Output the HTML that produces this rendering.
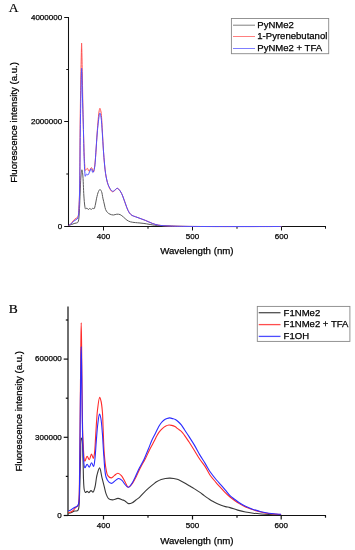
<!DOCTYPE html>
<html><head><meta charset="utf-8"><title>Fluorescence spectra</title>
<style>
html,body{margin:0;padding:0;background:#fff;}
body{width:355px;height:550px;overflow:hidden;}
svg{display:block;}
text{font-family:'Liberation Sans', Arial, sans-serif;fill:#000;stroke:#000;stroke-width:0.25px;}
text.tk{stroke-width:0.25px;}
</style></head>
<body>
<svg width="355" height="550" viewBox="0 0 355 550">
<rect width="355" height="550" fill="#fff"/>
<path d="M68.5 17 V226.5 H326" fill="none" stroke="#111" stroke-width="1.05"/>
<line x1="64.2" y1="17.5" x2="68.5" y2="17.5" stroke="#111" stroke-width="1.05"/>
<text x="62.1" y="19.75" text-anchor="end" font-size="8" class="tk">4000000</text>
<line x1="64.2" y1="121.5" x2="68.5" y2="121.5" stroke="#111" stroke-width="1.05"/>
<text x="62.1" y="123.75" text-anchor="end" font-size="8" class="tk">2000000</text>
<line x1="64.2" y1="226.5" x2="68.5" y2="226.5" stroke="#111" stroke-width="1.05"/>
<text x="62.1" y="228.75" text-anchor="end" font-size="8" class="tk">0</text>
<line x1="66.3" y1="69.5" x2="68.5" y2="69.5" stroke="#111" stroke-width="1.05"/>
<line x1="66.3" y1="174" x2="68.5" y2="174" stroke="#111" stroke-width="1.05"/>
<line x1="103.5" y1="226.5" x2="103.5" y2="230.5" stroke="#111" stroke-width="1.05"/>
<text x="103.5" y="238.5" text-anchor="middle" font-size="8" class="tk">400</text>
<line x1="192.5" y1="226.5" x2="192.5" y2="230.5" stroke="#111" stroke-width="1.05"/>
<text x="192.5" y="238.5" text-anchor="middle" font-size="8" class="tk">500</text>
<line x1="281.5" y1="226.5" x2="281.5" y2="230.5" stroke="#111" stroke-width="1.05"/>
<text x="281.5" y="238.5" text-anchor="middle" font-size="8" class="tk">600</text>
<line x1="148" y1="226.5" x2="148" y2="228.7" stroke="#111" stroke-width="1.05"/>
<line x1="237" y1="226.5" x2="237" y2="228.7" stroke="#111" stroke-width="1.05"/>
<line x1="325.5" y1="226.5" x2="325.5" y2="228.7" stroke="#111" stroke-width="1.05"/>
<text x="196.9" y="254" text-anchor="middle" font-size="9.7">Wavelength (nm)</text>
<text transform="translate(17.4 122.4) rotate(-90)" text-anchor="middle" font-size="9.6">Fluorescence intensity (a.u.)</text>
<text x="8.8" y="12.3" style="font-family:'Liberation Serif', 'Times New Roman', serif;font-size:13.5px;stroke-width:0.18px">A</text>
<path d="M68.60 225.40 C68.60 225.40 70.65 224.83 71.60 224.50 C72.48 224.19 73.28 223.75 74.10 223.50 C74.85 223.27 75.68 223.15 76.30 223.00 C76.76 222.89 77.17 222.95 77.50 222.70 C77.90 222.39 78.17 221.79 78.40 221.10 C78.75 220.06 78.83 218.54 79.00 216.90 C79.23 214.58 79.33 211.77 79.50 208.50 C79.73 203.92 79.96 197.37 80.20 192.00 C80.43 186.88 80.52 181.09 80.90 177.00 C81.16 174.16 81.56 169.81 81.90 169.80 C82.16 169.79 82.46 172.04 82.70 174.00 C83.24 178.45 83.47 190.10 83.90 196.00 C84.19 199.99 84.41 203.70 84.80 206.00 C85.01 207.23 85.02 208.57 85.50 208.80 C85.86 208.97 86.55 208.00 87.00 208.10 C87.49 208.21 87.85 209.57 88.30 209.60 C88.72 209.63 89.10 208.57 89.60 208.50 C90.15 208.43 90.95 209.49 91.50 209.40 C92.01 209.31 92.36 208.14 92.80 208.10 C93.19 208.06 93.65 209.03 94.00 208.90 C94.67 208.66 95.08 205.71 95.50 204.00 C95.95 202.16 96.13 200.19 96.60 198.20 C97.11 196.04 97.74 193.03 98.50 191.50 C98.95 190.58 99.50 189.50 100.00 189.50 C100.50 189.50 101.08 190.58 101.50 191.50 C102.19 193.03 102.40 195.96 102.90 198.20 C103.40 200.46 104.01 202.97 104.50 205.00 C104.90 206.66 105.04 208.19 105.60 209.50 C106.09 210.65 106.73 211.70 107.50 212.50 C108.21 213.24 109.06 213.79 110.00 214.20 C111.01 214.64 112.27 215.00 113.40 215.00 C114.53 215.00 115.67 214.26 116.80 214.20 C117.90 214.14 119.04 214.18 120.10 214.60 C121.29 215.07 122.39 216.20 123.50 217.10 C124.65 218.03 125.71 219.30 126.90 220.10 C127.99 220.83 129.02 221.39 130.30 221.80 C131.80 222.28 133.74 222.40 135.40 222.60 C136.97 222.79 138.34 222.82 140.00 223.00 C141.96 223.21 144.16 223.46 146.40 223.80 C148.90 224.18 151.29 224.85 154.30 225.20 C158.23 225.66 163.19 225.80 168.00 226.00 C173.36 226.22 177.02 226.30 185.00 226.40 C203.99 226.63 281.30 226.50 281.30 226.50" fill="none" stroke="#5a5a5a" stroke-width="1.0" stroke-linejoin="round"/>
<path d="M68.60 225.40 C68.60 225.40 70.10 224.65 70.80 224.00 C71.68 223.19 72.58 221.55 73.30 220.70 C73.79 220.12 74.11 219.71 74.60 219.30 C75.11 218.88 75.79 218.56 76.30 218.20 C76.74 217.89 77.18 217.70 77.50 217.30 C77.87 216.84 78.09 216.33 78.30 215.50 C78.71 213.88 78.72 211.04 78.90 208.00 C79.18 203.29 79.41 197.96 79.60 190.00 C79.97 174.30 79.95 140.77 80.20 120.00 C80.40 103.35 80.67 87.81 80.90 75.00 C81.07 65.45 81.26 55.74 81.40 50.00 C81.47 46.98 81.53 43.10 81.60 43.10 C81.67 43.10 81.73 46.98 81.80 50.00 C81.94 55.74 82.11 65.45 82.30 75.00 C82.56 87.81 82.86 105.94 83.20 120.00 C83.50 132.40 83.85 146.62 84.20 155.00 C84.40 159.70 84.59 163.16 84.80 166.00 C84.93 167.80 84.66 170.20 85.20 170.40 C85.65 170.57 86.79 168.20 87.40 168.30 C88.03 168.41 88.29 171.15 88.90 171.20 C89.61 171.25 90.76 167.52 91.50 167.60 C92.27 167.69 92.86 172.17 93.40 172.10 C94.26 171.99 94.76 164.77 95.30 160.00 C96.07 153.18 96.37 143.16 97.00 135.00 C97.61 127.17 98.28 116.37 99.00 112.00 C99.29 110.22 99.57 108.31 99.90 108.30 C100.23 108.29 100.69 110.28 101.00 112.00 C101.68 115.72 101.91 123.84 102.30 130.00 C102.71 136.49 102.99 143.93 103.40 150.00 C103.74 155.08 104.09 159.76 104.50 164.00 C104.84 167.53 105.16 170.82 105.60 173.70 C105.95 176.03 106.36 178.08 106.80 180.00 C107.17 181.63 107.51 183.06 108.00 184.50 C108.48 185.89 109.06 187.32 109.70 188.50 C110.25 189.52 110.87 190.66 111.50 191.20 C111.92 191.56 112.34 191.82 112.80 191.80 C113.34 191.77 113.89 191.25 114.50 190.80 C115.33 190.18 116.28 188.31 117.20 188.30 C118.15 188.29 119.25 189.79 120.10 190.90 C121.13 192.24 121.93 194.21 122.70 196.00 C123.51 197.87 124.10 199.93 124.80 201.90 C125.50 203.87 126.11 205.93 126.90 207.80 C127.65 209.58 128.43 211.56 129.40 212.90 C130.18 213.96 131.00 214.77 132.00 215.40 C133.00 216.04 134.18 216.24 135.40 216.70 C136.82 217.23 138.41 217.81 140.00 218.40 C141.73 219.04 143.50 219.64 145.40 220.40 C147.57 221.27 150.06 222.60 152.30 223.40 C154.32 224.13 155.87 224.68 158.20 225.10 C161.43 225.68 165.83 225.79 170.00 226.00 C174.70 226.24 177.83 226.30 185.00 226.40 C203.17 226.65 281.30 226.50 281.30 226.50" fill="none" stroke="#ff4f4f" stroke-width="1.0" stroke-linejoin="round"/>
<path d="M68.60 225.40 C68.60 225.40 70.08 224.66 70.80 224.10 C71.65 223.44 72.53 222.28 73.30 221.60 C73.90 221.07 74.39 220.72 75.00 220.30 C75.65 219.85 76.60 219.48 77.10 219.00 C77.48 218.63 77.68 218.30 77.90 217.80 C78.19 217.12 78.34 216.28 78.50 215.20 C78.76 213.49 78.85 211.23 79.00 208.50 C79.24 204.22 79.43 199.26 79.60 192.00 C79.94 177.94 80.03 148.41 80.30 130.00 C80.51 115.21 80.79 100.71 81.00 90.00 C81.14 82.82 81.26 75.74 81.40 72.00 C81.46 70.30 81.53 68.30 81.60 68.30 C81.69 68.30 81.80 71.50 81.90 74.00 C82.08 78.79 82.19 87.38 82.40 95.00 C82.65 104.11 83.01 114.61 83.30 125.00 C83.61 136.22 83.87 151.38 84.20 160.00 C84.39 165.05 84.55 169.01 84.80 172.00 C84.95 173.80 84.92 176.22 85.30 176.30 C85.60 176.36 86.10 174.10 86.60 174.00 C86.99 173.92 87.49 175.09 87.90 175.00 C88.49 174.87 88.96 173.03 89.50 172.00 C90.06 170.93 90.66 168.68 91.20 168.70 C91.77 168.72 92.27 172.51 92.80 172.50 C93.37 172.49 94.04 170.04 94.50 168.00 C95.39 164.04 95.47 156.49 96.00 150.00 C96.62 142.35 97.19 131.79 98.00 125.00 C98.56 120.29 99.27 113.14 99.90 113.10 C100.27 113.08 100.68 115.24 101.00 117.00 C101.63 120.51 101.90 127.58 102.30 133.00 C102.71 138.58 103.01 144.61 103.40 150.00 C103.75 154.89 104.09 159.76 104.50 164.00 C104.84 167.53 105.16 170.82 105.60 173.70 C105.95 176.03 106.36 178.11 106.80 180.00 C107.17 181.58 107.50 182.94 108.00 184.30 C108.48 185.60 109.07 186.90 109.70 188.00 C110.25 188.97 110.88 190.05 111.50 190.60 C111.92 190.98 112.34 191.30 112.80 191.30 C113.33 191.30 113.89 190.80 114.50 190.40 C115.32 189.87 116.30 188.27 117.20 188.30 C118.16 188.33 119.25 189.79 120.10 190.90 C121.13 192.24 121.93 194.21 122.70 196.00 C123.51 197.87 124.10 199.93 124.80 201.90 C125.50 203.87 126.11 205.93 126.90 207.80 C127.65 209.58 128.43 211.56 129.40 212.90 C130.18 213.96 131.00 214.77 132.00 215.40 C133.00 216.04 134.18 216.24 135.40 216.70 C136.82 217.23 138.41 217.81 140.00 218.40 C141.73 219.04 143.50 219.64 145.40 220.40 C147.57 221.27 150.06 222.60 152.30 223.40 C154.32 224.13 155.87 224.68 158.20 225.10 C161.43 225.68 165.83 225.79 170.00 226.00 C174.70 226.24 177.83 226.30 185.00 226.40 C203.17 226.65 281.30 226.50 281.30 226.50" fill="none" stroke="#4f4fff" stroke-width="1.0" stroke-linejoin="round"/>
<rect x="231.4" y="18.5" width="97.29999999999998" height="35.2" fill="none" stroke="#888" stroke-width="0.9"/>
<line x1="233" y1="25.2" x2="255" y2="25.2" stroke="#808080" stroke-width="1"/>
<text x="257.3" y="28.05" font-size="9.55">PyNMe2</text>
<line x1="233" y1="36.5" x2="255" y2="36.5" stroke="#ff7f7f" stroke-width="1"/>
<text x="257.3" y="39.35" font-size="9.55">1-Pyrenebutanol</text>
<line x1="233" y1="48.5" x2="255" y2="48.5" stroke="#7f7fff" stroke-width="1"/>
<text x="257.3" y="51.35" font-size="9.55">PyNMe2 + TFA</text>
<path d="M68.0 306.5 V515.5 H326" fill="none" stroke="#111" stroke-width="1.2"/>
<line x1="63.7" y1="359.1" x2="68.0" y2="359.1" stroke="#111" stroke-width="1.2"/>
<text x="61.8" y="361.35" text-anchor="end" font-size="8" class="tk">600000</text>
<line x1="63.7" y1="437.3" x2="68.0" y2="437.3" stroke="#111" stroke-width="1.2"/>
<text x="61.8" y="439.55" text-anchor="end" font-size="8" class="tk">300000</text>
<line x1="63.7" y1="515.5" x2="68.0" y2="515.5" stroke="#111" stroke-width="1.2"/>
<text x="61.8" y="517.75" text-anchor="end" font-size="8" class="tk">0</text>
<line x1="65.8" y1="320" x2="68.0" y2="320" stroke="#111" stroke-width="1.2"/>
<line x1="65.8" y1="398.2" x2="68.0" y2="398.2" stroke="#111" stroke-width="1.2"/>
<line x1="65.8" y1="476.4" x2="68.0" y2="476.4" stroke="#111" stroke-width="1.2"/>
<line x1="103.5" y1="515.5" x2="103.5" y2="519.5" stroke="#111" stroke-width="1.2"/>
<text x="103.5" y="528.3" text-anchor="middle" font-size="8" class="tk">400</text>
<line x1="192.5" y1="515.5" x2="192.5" y2="519.5" stroke="#111" stroke-width="1.2"/>
<text x="192.5" y="528.3" text-anchor="middle" font-size="8" class="tk">500</text>
<line x1="281.2" y1="515.5" x2="281.2" y2="519.5" stroke="#111" stroke-width="1.2"/>
<text x="281.2" y="528.3" text-anchor="middle" font-size="8" class="tk">600</text>
<line x1="148" y1="515.5" x2="148" y2="517.7" stroke="#111" stroke-width="1.2"/>
<line x1="237" y1="515.5" x2="237" y2="517.7" stroke="#111" stroke-width="1.2"/>
<line x1="325.5" y1="515.5" x2="325.5" y2="517.7" stroke="#111" stroke-width="1.2"/>
<text x="196.9" y="543.7" text-anchor="middle" font-size="9.7">Wavelength (nm)</text>
<text transform="translate(22.2 411.3) rotate(-90)" text-anchor="middle" font-size="9.6">Fluorescence intensity (a.u.)</text>
<text x="8.8" y="313.4" style="font-family:'Liberation Serif', 'Times New Roman', serif;font-size:13.5px;stroke-width:0.18px">B</text>
<path d="M68.20 513.20 C68.20 513.20 70.57 512.78 71.60 512.40 C72.52 512.06 73.27 511.32 74.10 511.10 C74.83 510.90 75.64 511.15 76.30 511.00 C76.89 510.86 77.50 510.73 77.90 510.30 C78.40 509.77 78.58 508.86 78.80 507.80 C79.16 506.11 79.15 503.84 79.30 501.00 C79.55 496.26 79.70 488.89 79.90 482.00 C80.14 473.79 80.36 462.95 80.60 455.00 C80.79 448.71 80.52 438.24 81.20 438.10 C81.44 438.05 81.85 438.99 82.10 440.00 C82.87 443.11 82.68 452.66 83.00 460.00 C83.40 468.99 83.27 485.56 84.30 490.00 C84.61 491.34 84.88 492.34 85.40 492.50 C85.85 492.63 86.54 491.39 87.10 491.40 C87.67 491.41 88.21 492.64 88.80 492.60 C89.50 492.56 90.27 490.63 91.00 490.60 C91.67 490.57 92.42 492.26 93.00 492.10 C93.86 491.86 94.42 489.10 95.00 487.00 C95.86 483.88 96.09 478.44 97.00 475.00 C97.72 472.29 98.82 467.86 99.60 467.90 C100.48 467.95 101.12 474.16 101.90 477.30 C102.69 480.46 103.56 483.86 104.30 486.80 C104.94 489.34 105.31 491.82 106.10 493.90 C106.77 495.67 107.34 497.60 108.50 498.60 C109.52 499.48 110.98 499.86 112.40 499.90 C114.09 499.95 116.24 498.35 118.00 498.40 C119.59 498.45 121.22 499.43 122.50 499.90 C123.46 500.25 124.13 500.41 125.00 500.90 C126.13 501.54 127.33 503.34 128.60 503.60 C129.77 503.84 131.13 503.25 132.30 502.70 C133.57 502.10 134.70 500.90 135.90 500.00 C137.10 499.10 138.34 498.35 139.50 497.30 C140.78 496.15 141.82 494.69 143.20 493.30 C144.81 491.68 146.77 489.83 148.60 488.20 C150.40 486.60 152.53 484.79 154.10 483.60 C155.20 482.77 155.92 482.23 157.00 481.60 C158.25 480.88 159.77 480.12 161.20 479.60 C162.58 479.10 163.96 478.75 165.40 478.50 C166.89 478.24 168.30 478.03 170.00 478.10 C172.14 478.18 175.16 478.68 177.20 479.30 C178.82 479.79 180.01 480.51 181.40 481.20 C182.81 481.91 184.21 482.70 185.60 483.50 C187.01 484.30 188.39 485.16 189.80 486.00 C191.23 486.86 192.56 487.64 194.10 488.60 C195.92 489.74 198.22 491.15 200.00 492.40 C201.54 493.48 202.78 494.56 204.20 495.60 C205.61 496.63 207.07 497.64 208.50 498.60 C209.90 499.54 211.28 500.49 212.70 501.30 C214.08 502.09 215.49 502.75 216.90 503.40 C218.29 504.04 219.68 504.67 221.10 505.20 C222.51 505.73 223.93 506.20 225.40 506.60 C226.90 507.01 228.28 507.14 230.00 507.60 C232.25 508.21 235.11 509.37 237.70 510.10 C240.28 510.83 242.90 511.48 245.50 512.00 C248.06 512.51 250.62 512.87 253.20 513.20 C255.79 513.53 258.41 513.78 261.00 514.00 C263.57 514.22 265.83 514.37 268.70 514.50 C272.34 514.66 281.10 514.80 281.10 514.80" fill="none" stroke="#383838" stroke-width="1.1" stroke-linejoin="round"/>
<path d="M68.20 512.70 C68.20 512.70 69.98 512.47 70.80 512.10 C71.68 511.70 72.51 511.04 73.30 510.30 C74.19 509.47 75.00 508.04 75.80 507.30 C76.38 506.76 77.06 506.59 77.50 506.10 C77.91 505.64 78.17 505.14 78.40 504.50 C78.69 503.68 78.76 503.04 78.90 501.50 C79.36 496.56 79.40 482.57 79.60 470.00 C79.90 451.26 80.09 421.38 80.30 400.00 C80.48 381.93 80.63 364.16 80.80 350.00 C80.93 339.53 81.06 322.70 81.20 322.70 C81.33 322.70 81.47 335.92 81.60 345.00 C81.81 359.26 81.94 383.12 82.20 400.00 C82.42 414.39 82.39 428.76 83.00 440.00 C83.45 448.22 83.73 461.11 84.90 461.30 C85.49 461.40 86.31 456.26 87.10 456.20 C87.79 456.15 88.62 459.86 89.30 459.80 C90.12 459.72 90.79 454.01 91.50 454.00 C92.12 453.99 92.81 458.43 93.30 458.40 C93.78 458.37 94.08 456.02 94.40 454.00 C95.08 449.71 95.30 440.65 95.80 433.60 C96.33 426.02 96.69 416.64 97.50 410.00 C98.10 405.10 98.93 397.36 99.70 397.30 C100.12 397.26 100.62 399.42 101.00 401.00 C101.63 403.63 102.06 407.84 102.40 411.80 C102.82 416.60 102.83 421.81 103.10 427.80 C103.44 435.46 103.68 446.43 104.30 454.00 C104.77 459.82 105.33 465.44 106.10 469.40 C106.60 471.95 106.73 474.15 107.80 475.60 C108.67 476.78 110.28 477.96 111.40 477.90 C112.44 477.85 113.26 476.35 114.30 475.60 C115.42 474.78 116.71 473.19 117.90 473.20 C119.08 473.21 120.34 474.46 121.40 475.60 C122.78 477.09 123.82 479.80 125.00 481.80 C126.12 483.69 127.02 487.12 128.30 487.30 C129.48 487.47 131.10 485.11 132.30 483.60 C133.68 481.86 134.74 479.53 135.90 477.30 C137.15 474.89 138.26 472.10 139.50 469.60 C140.70 467.17 142.15 464.39 143.20 462.50 C143.92 461.21 144.36 460.70 145.10 459.30 C146.42 456.82 148.45 451.95 150.10 448.70 C151.55 445.85 153.21 443.10 154.40 440.80 C155.31 439.04 155.89 437.59 156.70 436.10 C157.46 434.70 158.17 433.35 159.10 432.10 C160.04 430.84 161.20 429.62 162.30 428.60 C163.30 427.68 164.27 426.80 165.40 426.20 C166.51 425.61 167.88 425.10 169.00 425.00 C169.95 424.92 170.77 425.16 171.70 425.40 C172.74 425.67 173.88 426.04 174.90 426.60 C175.98 427.19 176.95 428.13 178.00 428.90 C179.08 429.69 180.27 430.32 181.30 431.30 C182.45 432.40 183.38 433.78 184.50 435.30 C185.89 437.18 187.37 439.46 188.90 441.80 C190.65 444.48 192.58 447.59 194.40 450.50 C196.22 453.42 197.94 456.51 199.80 459.30 C201.58 461.96 203.59 464.27 205.30 466.90 C207.03 469.56 208.33 472.63 210.10 475.20 C211.81 477.68 214.01 480.10 215.70 482.10 C217.04 483.69 218.06 484.81 219.40 486.30 C220.95 488.02 222.74 490.02 224.50 491.80 C226.27 493.59 228.21 495.48 230.00 497.00 C231.57 498.33 233.04 499.39 234.60 500.50 C236.14 501.59 237.60 502.58 239.30 503.60 C241.20 504.75 243.28 505.99 245.50 507.00 C247.89 508.08 250.61 508.96 253.20 509.80 C255.78 510.63 258.40 511.38 261.00 512.00 C263.56 512.61 265.82 513.10 268.70 513.50 C272.33 514.00 281.10 514.50 281.10 514.50" fill="none" stroke="#ff2a2a" stroke-width="1.1" stroke-linejoin="round"/>
<path d="M68.20 510.70 C68.20 510.70 69.97 510.30 70.80 509.90 C71.67 509.48 72.54 508.66 73.30 508.20 C73.91 507.83 74.43 507.58 75.00 507.30 C75.56 507.02 76.20 506.80 76.70 506.50 C77.15 506.23 77.58 506.06 77.90 505.60 C78.36 504.95 78.59 503.77 78.80 502.70 C79.05 501.44 79.09 500.53 79.20 498.50 C79.50 493.23 79.54 481.60 79.70 470.00 C79.95 451.82 80.17 419.33 80.40 400.00 C80.57 386.33 80.75 374.82 80.90 365.00 C81.01 357.86 81.08 346.50 81.20 346.50 C81.32 346.50 81.47 357.19 81.60 365.00 C81.83 378.46 81.98 404.14 82.30 420.00 C82.55 432.10 82.60 443.21 83.20 452.00 C83.62 458.20 83.77 467.55 84.90 467.80 C85.48 467.93 86.34 464.24 87.10 464.20 C87.81 464.16 88.61 467.16 89.30 467.10 C90.10 467.03 90.76 462.72 91.50 462.70 C92.19 462.68 93.07 466.49 93.60 466.40 C94.26 466.29 94.44 462.71 94.80 460.00 C95.42 455.34 95.78 447.07 96.30 440.90 C96.79 435.09 97.17 428.89 97.80 424.00 C98.29 420.22 98.87 414.05 99.50 414.00 C99.91 413.97 100.42 416.20 100.80 418.00 C101.53 421.47 101.93 427.96 102.40 433.60 C102.96 440.28 103.18 448.21 103.80 455.50 C104.42 462.78 104.57 472.76 106.10 477.30 C106.87 479.60 107.83 481.11 109.00 482.10 C109.89 482.85 111.05 483.45 112.00 483.30 C113.03 483.14 113.86 481.67 114.90 480.90 C116.02 480.07 117.29 478.57 118.50 478.50 C119.66 478.43 120.97 479.41 122.00 480.30 C123.18 481.32 123.89 483.30 125.00 484.50 C126.01 485.60 127.19 487.38 128.30 487.30 C129.62 487.20 131.10 484.49 132.30 482.70 C133.68 480.64 134.72 477.95 135.90 475.50 C137.12 472.98 138.19 470.44 139.50 467.80 C140.93 464.92 142.73 462.00 144.20 458.90 C145.74 455.65 147.15 451.97 148.50 448.70 C149.74 445.69 150.80 442.64 152.00 440.00 C153.04 437.71 154.15 435.80 155.20 433.70 C156.25 431.60 157.29 429.23 158.30 427.40 C159.12 425.92 159.78 424.69 160.70 423.50 C161.61 422.33 162.69 421.14 163.80 420.30 C164.80 419.55 165.96 419.01 167.00 418.60 C167.92 418.24 168.79 417.90 169.70 417.90 C170.62 417.90 171.57 418.33 172.50 418.60 C173.44 418.87 174.41 419.04 175.30 419.50 C176.25 419.99 177.09 420.70 178.00 421.50 C179.08 422.45 180.27 423.61 181.30 424.90 C182.45 426.34 183.34 428.05 184.50 429.80 C185.85 431.84 187.37 434.04 188.90 436.40 C190.65 439.09 192.62 442.09 194.40 445.10 C196.26 448.24 197.94 451.76 199.80 454.90 C201.58 457.91 203.55 460.73 205.30 463.60 C206.98 466.36 208.29 469.13 210.10 471.80 C212.00 474.60 214.50 477.62 216.50 480.00 C218.12 481.93 219.60 483.40 221.10 485.10 C222.57 486.77 223.95 488.39 225.40 490.10 C226.91 491.88 228.38 494.02 230.00 495.60 C231.47 497.04 233.04 498.11 234.60 499.30 C236.14 500.48 237.59 501.59 239.30 502.70 C241.20 503.93 243.28 505.22 245.50 506.30 C247.89 507.47 250.60 508.50 253.20 509.40 C255.77 510.29 258.39 511.06 261.00 511.70 C263.56 512.33 266.12 512.82 268.70 513.20 C271.28 513.58 274.24 513.81 276.50 514.00 C278.23 514.15 281.10 514.30 281.10 514.30" fill="none" stroke="#2a2aff" stroke-width="1.1" stroke-linejoin="round"/>
<rect x="257.3" y="306.4" width="92.59999999999997" height="35.0" fill="none" stroke="#888" stroke-width="0.9"/>
<line x1="258.7" y1="312.7" x2="280.5" y2="312.7" stroke="#505050" stroke-width="1.3"/>
<text x="283.6" y="315.55" font-size="9.55">F1NMe2</text>
<line x1="258.7" y1="324.6" x2="280.5" y2="324.6" stroke="#ff4d4d" stroke-width="1.3"/>
<text x="283.6" y="327.45000000000005" font-size="9.55">F1NMe2 + TFA</text>
<line x1="258.7" y1="336.4" x2="280.5" y2="336.4" stroke="#4d4dff" stroke-width="1.3"/>
<text x="283.6" y="339.25" font-size="9.55">F1OH</text>
</svg>
</body></html>
